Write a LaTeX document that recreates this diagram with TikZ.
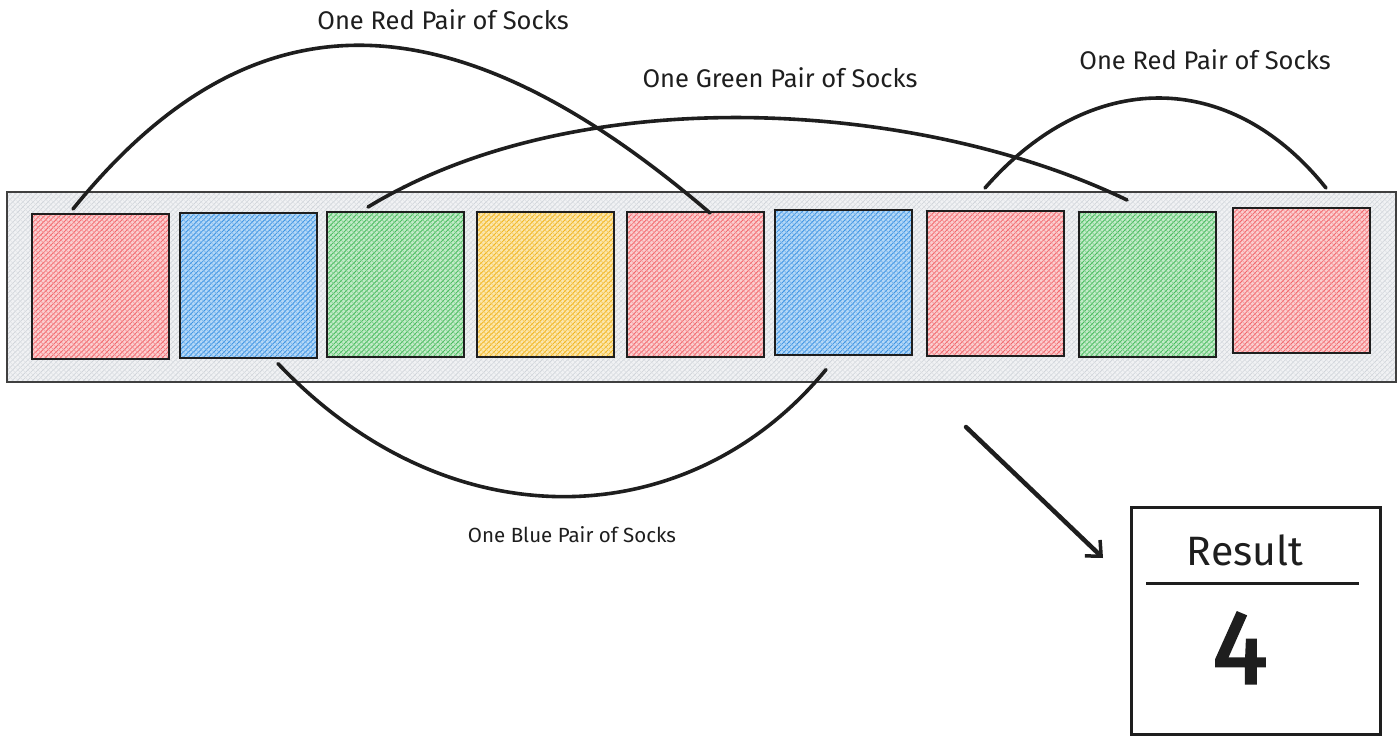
\documentclass[tikz,border=0pt]{standalone}
\usepackage{fontspec}
\setmainfont{Fira Sans}
\newfontfamily\heavyfour[FakeBold=2.5]{Fira Sans}
\usetikzlibrary{arrows.meta,patterns.meta,calc}
\definecolor{redf}{HTML}{FBCFD0}
\definecolor{redh}{HTML}{F26469}
\definecolor{bluef}{HTML}{B5D8F7}
\definecolor{blueh}{HTML}{3A93E4}
\definecolor{greenf}{HTML}{C3EBC9}
\definecolor{greenh}{HTML}{45BB5B}
\definecolor{yellowf}{HTML}{FCE7AE}
\definecolor{yellowh}{HTML}{F2B41A}
\definecolor{bandf}{HTML}{F1F2F4}
\definecolor{bandh}{HTML}{CED3D9}
\definecolor{ink}{HTML}{1E1E1E}
\begin{document}
\begin{tikzpicture}[x=1pt,y=-1pt,
  sock/.style={draw=ink, line width=1.6pt, minimum width=137pt, minimum height=145pt,
    inner sep=0pt, anchor=north west,
    preaction={fill=#1f},
    preaction={pattern={Lines[angle=45,distance=3.6pt,line width=0.8pt]}, pattern color=#1h},
    preaction={pattern={Lines[angle=-45,distance=3.6pt,line width=0.6pt]}, pattern color=#1h!70}},
  pairarc/.style={draw=ink, line width=3.6pt, line cap=round},
  lbl/.style={font=\fontsize{25.5}{30}\selectfont, text=ink, inner sep=0pt},
  smalllbl/.style={font=\fontsize{20.5}{24}\selectfont, text=ink, inner sep=0pt}]
\useasboundingbox (0,0) rectangle (1400,739);
\fill[white] (0,0) rectangle (1400,739);
% band
\node[draw=black!75, line width=1.5pt, minimum width=1389pt, minimum height=190pt,
  inner sep=0pt, anchor=north west,
  preaction={fill=bandf},
  preaction={pattern={Lines[angle=45,distance=3.6pt,line width=0.6pt]}, pattern color=bandh},
  preaction={pattern={Lines[angle=-45,distance=3.6pt,line width=0.5pt]}, pattern color=bandh!70}] (band) at (6,191) {};
% socks
\node[sock=red]    (s1) at (31,213) {};
\node[sock=blue]   (s2) at (179,212) {};
\node[sock=green]  (s3) at (326,211) {};
\node[sock=yellow] (s4) at (476,211) {};
\node[sock=red]    (s5) at (626,211) {};
\node[sock=blue]   (s6) at (774,209) {};
\node[sock=red]    (s7) at (926,210) {};
\node[sock=green]  (s8) at (1078,211) {};
\node[sock=red]    (s9) at (1232,207) {};
% arcs
\draw[pairarc] ($(s1.north west)+(42,-4)$) .. controls (250,-10) and (450,-10) .. ($(s5.north west)+(84,2)$);
\draw[pairarc] ($(s3.north west)+(42,-4)$) .. controls (580,78) and (920,100) .. ($(s8.north west)+(49,-11)$);
\draw[pairarc] ($(s7.north west)+(59,-22)$) .. controls (1090,68) and (1230,68) .. ($(s9.north west)+(94,-19)$);
\draw[pairarc] ($(s2.south west)+(99,5)$) .. controls (450,545) and (690,535) .. ($(s6.south west)+(52,14)$);
% labels
\node[lbl] (l1) at (443,20) {One Red Pair of Socks};
\node[lbl] (l2) at (780,78) {One Green Pair of Socks};
\node[lbl] (l3) at (1205,60) {One Red Pair of Socks};
\node[smalllbl] (l4) at (572,535) {One Blue Pair of Socks};
% result
\node[draw=ink, line width=3pt, minimum width=249pt, minimum height=227pt, inner sep=0pt,
  anchor=north west] (rb) at (1130,506) {};
\node[font=\fontsize{41}{48}\selectfont, text=ink, inner sep=0pt] (rt) at (1245,550) {Result};
\draw[ink, line width=3pt] ($(rb.north west)+(16,77)$) -- ($(rb.north east)+(-23,77)$);
\node[font=\heavyfour\fontsize{104}{115}\selectfont, text=ink, inner sep=0pt] (rv) at (1240,648) {4};
\coordinate (atail) at (966,427);
\draw[ink, line width=4.5pt, line cap=round, -{Straight Barb[length=12pt,width=22pt,line width=3.5pt]}]
  (atail) -- ($(rb.north west)+(-27,52)$);
\end{tikzpicture}
\end{document}
